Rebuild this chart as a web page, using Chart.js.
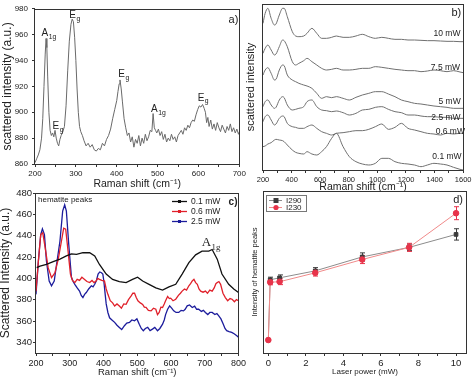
<!DOCTYPE html>
<html><head><meta charset="utf-8">
<script src="https://cdn.jsdelivr.net/npm/chart.js@4.4.1/dist/chart.umd.min.js"></script>
<style>
html,body{margin:0;padding:0;background:#fff;}
body{width:474px;height:379px;position:relative;overflow:hidden;}
canvas{position:absolute;}
</style></head><body>
<canvas id="ca" width="248" height="194" style="left:0;top:0"></canvas>
<canvas id="cb" width="230" height="194" style="left:244px;top:0"></canvas>
<canvas id="cc" width="248" height="193" style="left:0;top:186px"></canvas>
<canvas id="cd" width="230" height="193" style="left:244px;top:186px"></canvas>
<script>
// ---------- DATA ----------
// Panel a) Raman spectrum
const aShift = [200,204,208,212,216,219,222,225,227,229,
 231,234,237,240,243,246,249,252,255,258,
 261,264,268,272,276,280,284,288,291,294,
 297,300,303,306,309,312,316,320,325,330,
 335,340,345,350,355,360,365,370,375,380,
 385,390,395,400,403,406,408,411,414,418,
 422,426,430,434,438,442,446,450,454,458,
 462,466,470,474,478,482,486,489,492,495,
 498,502,506,510,514,518,522,526,530,534,
 538,542,546,550,554,558,562,566,570,574,
 578,582,586,590,594,598,602,606,610,614,
 617,620,623,626,630,634,638,642,646,650,
 654,658,662,666,670,674,678,682,686,690,
 694,698,700];
const aIntensity = [861,864,867,871,880,895,920,945,957,950,
 928,900,886,882,884,881,886,880,876,874,
 879,882,885,889,905,932,955,968,972,970,
 958,940,918,900,889,885,882,878,874,876,
 873,875,871,870,872,871,876,874,879,882,
 887,895,902,909,916,922,925,918,908,895,
 888,882,884,877,881,873,879,876,882,874,
 880,876,883,878,881,886,885,899,888,886,
 884,887,882,885,879,883,877,880,878,883,
 879,881,877,882,884,886,883,888,886,890,
 888,892,894,893,898,902,905,904,906,903,
 900,892,896,889,894,887,891,886,892,888,
 885,890,887,884,889,886,891,885,888,884,
 887,883,885];
const aPeakNames = [['A','1g'],['E','g'],['E','g'],['E','g'],['A','1g'],['E','g']];
const aPeakAt = [[216,959],[284,973],[243,887],[404,927],[484,900],[598,909]];

// Panel b) spectra at several laser powers (offset, arbitrary units)
const bShift = [200,215,234,257,280,291,314,337,348,370,405,428,451,485,508,542,576,610,644,680,713,760,804,850,895,940,986,1031,1077,1123,1168,1214,1260,1305,1350,1396,1441,1487,1533,1578,1600];
const b10mW  = [440,470,485,455,435,438,465,485,485,460, 415,402,400,402,410,425,410,395,395,398, 402,398,398,402,407,400,395,398,395,392, 392,390,390,389,388,388,387,386,386,385, 385];
const b7_5mW = [350,365,375,360,345,348,370,390,388,370, 325,315,320,328,335,325,315,305,300,302, 305,300,300,302,305,305,310,308,305,302, 300,298,298,295,297,300,298,295,298,294, 292];
const b5mW   = [285,300,307,290,270,272,300,315,313,285, 270,265,260,255,252,245,230,215,220,217, 220,215,210,218,225,230,235,235,228,220, 210,205,200,198,195,192,190,188,185,185, 185];
const b2_5mW = [190,205,210,195,185,188,210,220,217,195, 180,182,185,190,205,210,190,180,178,175, 177,172,165,170,180,182,188,190,182,175, 172,165,165,162,160,160,158,158,155,155, 155];
const b0_6mW = [145,160,165,150,135,138,155,162,160,140, 130,128,125,125,130,135,125,115,110,105, 110,112,115,118,118,122,130,138,122,128, 140,125,120,115,110,108,105,110,108,110, 110];
const b0_1mW = [70,72,78,82,90,92,90,88,85,75, 60,53,50,48,55,48,45,55,70,95, 110,70,40,25,18,15,20,35,35,25, 20,18,15,10,15,20,18,15,8,2, 0];
const bNames = ['10 mW','7.5 mW','5 mW','2.5 mW','0.6 mW','0.1 mW'];
const bNameAt = [[1487,410],[1476,310],[1505,207],[1480,160],[1510,117],[1487,42]];

// Panel c) hematite peaks
const cNames = ['0.1 mW','0.6 mW','2.5 mW'];
const cShift01 = [202,212,231,251,271,290,305,320,339,359,374,388,408,427,447,467,486,501,516,535,555,575,594,614,633,653,673,692,712,722,737,751,771,786,800];
const cInt01   = [410,411.5,413,415.6,418,421,423,422.5,424,424,421,413,404,399,397,396,399,401,397.5,394.4,391,389,392,394.4,404,414.7,422,425.5,425.5,427,418,404,394.4,390,386.7];
const cShift06 = [200,207,214,220,227,236,246,256,266,275.5,282,288,295,
 302,308,315,322,329,336,344,351,359,366,372,378,383,388,395,403,408,413,420,427,433,440,447,453,460,467,474,482,487,492,497,502,509,516,521,526,533,541,548,555,560,565,570,575,580,584,590,595,599,606,614,622,628,633,640,646,653,658,663,668,673,678,683,688,695,702,708,715,722,728,733,737,742,747,754,761,768,775,781,788,794,800];
const cInt06   = [388,416,441,442.7,429,410,400.7,405,418,435,447,446,425.5,
 404,398,396,399,398,401,399,397,396,398,396,397.5,400,399,398,397.5,390,385,379,377,374,376,374,372,376,375.6,380,383.5,386,386,382,379,377,375.6,373,372.7,370,369.5,372,371,366,368,373,372.7,376,379,383,381,381.4,379,380.4,384,386,388,390,389,393,395,397.5,399,396,394.4,390,388,387,388,386,389,388,391,395,396,397,394.4,386,382,379,381,380.4,378,380,379];
const cShift25 = [200,207,214,219,225,231,239,246,254,261,271,279,285,290,297,
 305,310,315,322,329,334,339,344,349,356,364,369,374,379,384,389,394,398,401,405,408,413,418,425,433,440,447,454,462,469,477,484,492,499,506,512,518,524,531,538,545,552,560,567,575,580,584,590,596,602,608,615,623,630,637,642,648,655,663,670,676,682,690,696,702,709,715,722,730,736,741,748,755,760,765,772,780,787,795,800];
const cInt25   = [385,416,441,446.4,441,416,397.5,393,397.5,413,435,463,469,463,432,
 401,397,394.4,391,388,384,382,385,386.7,390,393,392,394.4,398,404,406,405.3,404,397.5,385,376,368,363,361,358.7,356,354,352,355.6,358,358.7,361,360.2,362,357,353,350.9,353,354,351,352.4,354,350.9,353,357,361,366,371,374.2,372,369.5,368,368,370,369.5,371,374.2,375,372.7,374,371,371,369,370,368,366,368,368,366,367,365,362,357,353,351,350,349.3,348,346.2,344.7];

// Panel d) peak intensity vs laser power
const dPower   = [0,0.1,0.6,2.5,5,7.5,10];
const dI290    = [8,45.2,46.4,50.7,59.3,65.2,73.2];
const dI230    = [8,43.7,44.0,49.5,57.7,65.2,86.3];
const dI290Err = [0,1.6,1.8,2,2.5,2,3.5];
const dI230Err = [0,1.6,1.8,2,2.5,2.5,4];
const dNames   = ['I290','I230'];

// ---------- HELPERS ----------
const SANS = "'Liberation Sans', Arial, sans-serif";
const SERIF = "'Liberation Serif', 'Times New Roman', serif";
Chart.defaults.font.family = SANS;
Chart.defaults.color = '#222';
Chart.defaults.animation = false;

function pairs(xs, ys){ return xs.map((x,i)=>({x:x, y:ys[i]})); }

function drawRich(ctx, x, y, main, sub, size, o){
  o = o || {};
  const fam = o.family || SANS, wt = o.weight || 'normal';
  ctx.save();
  ctx.fillStyle = o.color || '#222';
  ctx.textBaseline = 'alphabetic'; ctx.textAlign = 'left';
  const f1 = wt+' '+size+'px '+fam;
  const ss = size*0.68;
  const f2 = wt+' '+ss+'px '+fam;
  ctx.font = f1; const w1 = ctx.measureText(main).width;
  let w2 = 0; if (sub){ ctx.font = f2; w2 = ctx.measureText(sub).width; }
  const tw = w1 + w2;
  let sx = o.align==='center' ? x - tw/2 : o.align==='right' ? x - tw : x;
  let by = o.middle ? y + size*0.35 : y;
  ctx.font = f1; ctx.fillText(main, sx, by);
  if (sub){ ctx.font = f2; ctx.fillText(sub, sx + w1 + 0.5, by + size*0.28); }
  ctx.restore();
}

const framePlugin = {
  id:'frame',
  afterDraw(chart){
    const {ctx, chartArea:a} = chart;
    ctx.save(); ctx.strokeStyle = '#333'; ctx.lineWidth = 1;
    ctx.strokeRect(Math.round(a.left)-0.5, Math.round(a.top)+0.5, Math.round(a.right-a.left)+1, Math.round(a.bottom-a.top));
    ctx.restore();
  }
};

function axis(o){
  return {
    type:'linear', position:o.pos, min:o.min, max:o.max,
    ticks:{display:o.labels!==false, stepSize:o.step, autoSkip:false, maxRotation:0, minRotation:0, includeBounds:false,
      font:{size:o.tickSize||8}, color:'#222', padding:o.tickPad||2,
      callback:(v)=> (o.every && Math.abs(v/o.every - Math.round(v/o.every))>1e-6) ? '' : String(v)},
    grid:{display:o.marks!==false, drawOnChartArea:false, drawTicks:true, tickLength:3, tickColor:'#333', tickWidth:1},
    border:{display:false},
    title:{display:!!o.title, text:o.title, font:{size:o.titleSize||10}, color:'#222', padding:o.titlePad||{top:0,bottom:0}},
    afterFit:(s)=>{ if(o.pos==='bottom') s.height = o.size; else s.width = o.size; }
  };
}
const baseOpts = {responsive:false, animation:false, events:[]};

// ---------- PANEL a ----------
new Chart(document.getElementById('ca'), {
  type:'line',
  data:{datasets:[{data:pairs(aShift,aIntensity), borderColor:'#6a6a6a', borderWidth:1, pointRadius:0, tension:0}]},
  options:Object.assign({}, baseOpts, {
    layout:{padding:{left:0, top:2, right:8, bottom:0}},
    plugins:{legend:{display:false}, tooltip:{enabled:false}},
    scales:{
      x:axis({pos:'bottom', min:200, max:700, step:50, every:100, tickSize:8, tickPad:2, title:'Raman shift (cm⁻¹)', titleSize:10.5, titlePad:{top:0,bottom:3.7}, size:30}),
      y:axis({pos:'left', min:860, max:980, step:20, every:20, tickSize:8, tickPad:4, title:'scattered intensity (a.u.)', titleSize:12, titlePad:{top:0.5,bottom:0}, size:35})
    }
  }),
  plugins:[framePlugin, {
    id:'aTexts',
    afterDraw(chart){
      const ctx = chart.ctx, xs = chart.scales.x, ys = chart.scales.y, a = chart.chartArea;
      aPeakNames.forEach((n,i)=>{
        drawRich(ctx, xs.getPixelForValue(aPeakAt[i][0]), ys.getPixelForValue(aPeakAt[i][1]), n[0], n[1], 10);
      });
      drawRich(ctx, a.right-1, a.top+14, 'a)', '', 11, {align:'right'});
    }
  }]
});

// ---------- PANEL b ----------
const bSeries = [b10mW, b7_5mW, b5mW, b2_5mW, b0_6mW, b0_1mW];
new Chart(document.getElementById('cb'), {
  type:'line',
  data:{datasets:bSeries.map((s,i)=>({label:bNames[i], data:pairs(bShift,s), borderColor:'#707070', borderWidth:1, pointRadius:0, cubicInterpolationMode:'monotone'}))},
  options:Object.assign({}, baseOpts, {
    layout:{padding:{left:0, top:4, right:7, bottom:0}},
    plugins:{legend:{display:false}, tooltip:{enabled:false}},
    scales:{
      x:axis({pos:'bottom', min:200, max:1600, step:100, every:200, tickSize:7.5, tickPad:2.5, title:'Raman shift (cm⁻¹)', titleSize:10.5, titlePad:{top:0,bottom:0.7}, size:24}),
      y:axis({pos:'left', min:0, max:498, step:100, labels:false, marks:false, title:'scattered intensity', titleSize:11, titlePad:{top:0,bottom:0}, size:19})
    }
  }),
  plugins:[framePlugin, {
    id:'bTexts',
    afterDraw(chart){
      const ctx = chart.ctx, xs = chart.scales.x, ys = chart.scales.y, a = chart.chartArea;
      bNames.forEach((n,i)=>{
        drawRich(ctx, xs.getPixelForValue(bNameAt[i][0]), ys.getPixelForValue(bNameAt[i][1]), n, '', 8.5, {align:'center', middle:true});
      });
      drawRich(ctx, a.right-2, a.top+12, 'b)', '', 11, {align:'right'});
    }
  }]
});

// ---------- PANEL c ----------
const cColors = ['#111111','#e0202a','#1c1c9c'];
new Chart(document.getElementById('cc'), {
  type:'line',
  data:{datasets:[
    {label:cNames[0], data:pairs(cShift01,cInt01), borderColor:cColors[0], borderWidth:1.3, pointRadius:0, tension:0},
    {label:cNames[1], data:pairs(cShift06,cInt06), borderColor:cColors[1], borderWidth:1.3, pointRadius:0, tension:0},
    {label:cNames[2], data:pairs(cShift25,cInt25), borderColor:cColors[2], borderWidth:1.3, pointRadius:0, tension:0}
  ]},
  options:Object.assign({}, baseOpts, {
    layout:{padding:{left:0, top:7, right:8, bottom:0}},
    plugins:{legend:{display:false}, tooltip:{enabled:false}},
    scales:{
      x:axis({pos:'bottom', min:200, max:800, step:50, every:100, tickSize:9, tickPad:2, title:'Raman shift (cm⁻¹)', titleSize:9.5, titlePad:{top:0,bottom:0.6}, size:26}),
      y:axis({pos:'left', min:330, max:480, step:20, every:20, tickSize:9.5, tickPad:1, title:'Scattered Intensity (a.u.)', titleSize:12, titlePad:{top:-2,bottom:0}, size:36})
    }
  }),
  plugins:[framePlugin, {
    id:'cTexts',
    afterDraw(chart){
      const ctx = chart.ctx, xs = chart.scales.x, ys = chart.scales.y, a = chart.chartArea;
      drawRich(ctx, a.left+2, a.top+6, 'hematite peaks', '', 8, {middle:true});
      chart.data.datasets.forEach((ds,i)=>{
        const yy = Math.round(a.top + 8 + i*10) + 0.5;
        ctx.save(); ctx.strokeStyle = ds.borderColor; ctx.lineWidth = 1.3;
        ctx.beginPath(); ctx.moveTo(a.left+136, yy); ctx.lineTo(a.left+151, yy); ctx.stroke();
        ctx.fillStyle = ds.borderColor; ctx.fillRect(a.left+142, yy-1.5, 3, 3);
        ctx.restore();
        drawRich(ctx, a.left+155, yy, ds.label, '', 8.5, {middle:true});
      });
      drawRich(ctx, a.right-1, a.top+8, 'c)', '', 10, {align:'right', middle:true, weight:'bold'});
      drawRich(ctx, xs.getPixelForValue(691), ys.getPixelForValue(430), 'A', '1g', 13, {family:SERIF});
    }
  }]
});

// ---------- PANEL d ----------
const dErrs = [dI290Err, dI230Err];
new Chart(document.getElementById('cd'), {
  type:'line',
  data:{datasets:[
    {label:dNames[0], data:pairs(dPower,dI290), order:1, borderColor:'#8c8c8c', borderWidth:1, pointStyle:'rect', pointRadius:2.6, pointBackgroundColor:'#3c3c3c', pointBorderColor:'#3c3c3c', tension:0},
    {label:dNames[1], data:pairs(dPower,dI230), order:0, borderColor:'#f08a8a', borderWidth:1, pointStyle:'circle', pointRadius:2.8, pointBackgroundColor:'#e8334a', pointBorderColor:'#e8334a', tension:0}
  ]},
  options:Object.assign({}, baseOpts, {
    layout:{padding:{left:0, top:4, right:8, bottom:0}},
    plugins:{legend:{display:false}, tooltip:{enabled:false}},
    scales:{
      x:axis({pos:'bottom', min:-0.23, max:10.53, step:1, every:2, tickSize:9.5, tickPad:1.5, title:'Laser power (mW)', titleSize:8, titlePad:{top:0,bottom:2.2}, size:26}),
      y:axis({pos:'left', min:0, max:100, step:10, labels:false, marks:false, title:'Intensity of hematite peaks', titleSize:7.5, titlePad:{top:6.5,bottom:0}, size:20})
    }
  }),
  plugins:[framePlugin, {
    id:'dErr',
    beforeDatasetsDraw(chart){
      const ctx = chart.ctx, xs = chart.scales.x, ys = chart.scales.y;
      chart.data.datasets.forEach((ds,i)=>{
        ctx.save(); ctx.strokeStyle = ds.pointBackgroundColor; ctx.lineWidth = 1;
        ds.data.forEach((p,j)=>{
          const e = dErrs[i][j]; if(!e) return;
          const px = Math.round(xs.getPixelForValue(p.x))+0.5, y1 = ys.getPixelForValue(p.y-e), y2 = ys.getPixelForValue(p.y+e);
          ctx.beginPath(); ctx.moveTo(px,y1); ctx.lineTo(px,y2);
          ctx.moveTo(px-2.5,y1); ctx.lineTo(px+2.5,y1); ctx.moveTo(px-2.5,y2); ctx.lineTo(px+2.5,y2); ctx.stroke();
        });
        ctx.restore();
      });
    },
    afterDraw(chart){
      const ctx = chart.ctx, a = chart.chartArea;
      ctx.save(); ctx.strokeStyle = '#777'; ctx.lineWidth = 1;
      ctx.strokeRect(Math.round(a.left)+2.5, Math.round(a.top)+4.5, 40, 16);
      chart.data.datasets.forEach((ds,i)=>{
        const yy = Math.round(a.top + 9 + i*7) + 0.5;
        ctx.strokeStyle = ds.borderColor; ctx.beginPath(); ctx.moveTo(a.left+5, yy); ctx.lineTo(a.left+18, yy); ctx.stroke();
        ctx.fillStyle = ds.pointBackgroundColor;
        if (ds.pointStyle==='rect') ctx.fillRect(a.left+9.5, yy-2.5, 5, 5);
        else { ctx.beginPath(); ctx.arc(a.left+12, yy, 2.6, 0, Math.PI*2); ctx.fill(); }
        drawRich(ctx, a.left+22, yy, ds.label, '', 8, {middle:true});
      });
      ctx.restore();
      drawRich(ctx, a.right-3, a.top+8, 'd)', '', 11, {align:'right', middle:true});
    }
  }]
});
</script>
</body></html>
